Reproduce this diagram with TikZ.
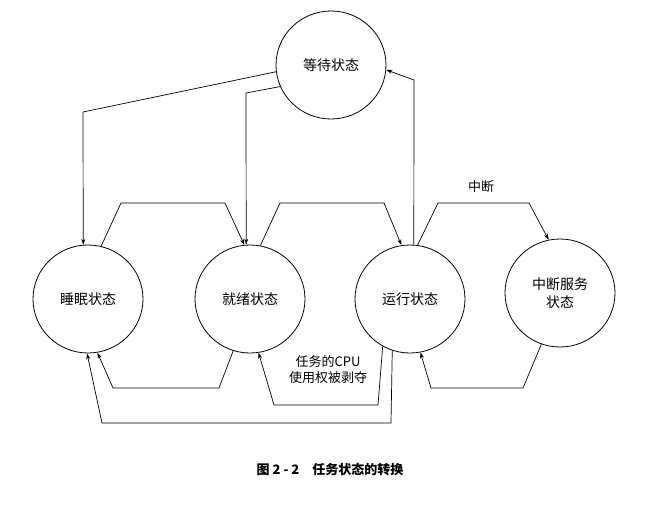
\documentclass[tikz,border=0pt]{standalone}
\usepackage{fontspec}
\newfontfamily\cjk{Noto Sans CJK SC}
\usetikzlibrary{arrows.meta,shapes.geometric}
\begin{document}
\begin{tikzpicture}[x=1pt,y=-1pt,
  st/.style={draw,ellipse,inner sep=0pt,minimum width=110pt,minimum height=108pt,font=\cjk\fontsize{14}{18}\selectfont,align=center,line width=0.8pt},
  ar/.style={draw,line width=0.7pt,-{Stealth[length=6pt,width=4pt]}},
  lb/.style={font=\cjk\fontsize{13}{16}\selectfont,align=center}]
\useasboundingbox (0,0) rectangle (666,528);
\node[st] (w) at (331,65) {等待状态};
\node[st] (s) at (88,299) {睡眠状态};
\node[st] (r) at (250,299) {就绪状态};
\node[st] (u) at (410,299) {运行状态};
\node[st] (i) at (560,293) {中断服务\\状态};
\coordinate (c1) at (83,112);
\coordinate (c2) at (246,93);
\coordinate (c3) at (414,80);
\draw[ar] (w.187) -- (c1) -- (s.95);
\draw[ar] (w.203) -- (c2) -- (r.94);
\draw[ar] (u.86) -- (c3) -- (w.-5);
\draw[ar] (s.76) -- (121,203) -- (225,203) -- (r.96);
\draw[ar] (r.79) -- (280,203) -- (384,203) -- (u.99);
\draw[ar] (u.82) -- (438,203) -- (529,203) -- (i.102);
\node[lb] (l1) at (481,187) {中断};
\draw[ar] (r.-108) -- (219,388) -- (113,388) -- (s.-80);
\draw[ar] (u.-120) -- (378,405) -- (274,405) -- (r.-81);
\draw[ar] (u.-109) -- (391,423) -- (102,423) -- (s.-91);
\draw[ar] (i.-110) -- (523,388) -- (431,388) -- (u.-79);
\node[lb] (l2) at (328,370) {任务的CPU\\使用权被剥夺};
\node[font=\cjk\bfseries\fontsize{13}{16}\selectfont] (cap) at (330,470) {图 2 - 2\quad 任务状态的转换};
\end{tikzpicture}
\end{document}
